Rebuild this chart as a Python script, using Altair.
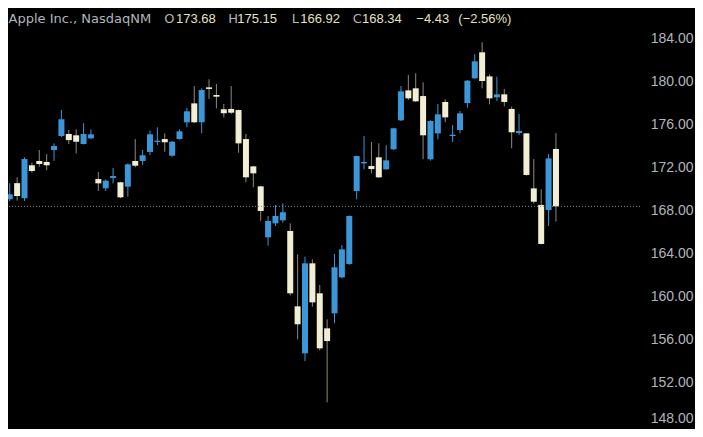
import altair as alt
import pandas as pd

# ---- data (daily candles, left to right) ----
OPEN = [168.2, 169.0, 170.5, 169.1, 172.16, 172.56, 172.47, 173.58, 174.88, 175.07,
        174.95, 174.14, 174.67, 170.88, 170.02, 170.98, 170.58, 170.17, 172.56, 172.56,
        173.4, 174.33, 174.6, 173.05, 174.6, 176.16, 177.92, 176.16, 179.41, 178.7,
        177.37, 177.4, 177.3, 174.6, 172.06, 170.2, 165.46, 166.76, 167.04, 166.05,
        159.04, 154.67, 163.04, 160.25, 156.99, 158.39, 161.74, 162.98, 169.77, 172.34,
        172.09, 172.9, 171.79, 173.65, 176.34, 179.13, 179.32, 178.6, 172.72, 175.13,
        178.05, 174.88, 175.44, 177.95, 180.25, 182.67, 180.43, 178.48, 178.76, 177.4,
        175.16, 175.13, 170.01, 168.47, 168.0, 173.68]
HIGH = [169.3, 170.5, 171.04, 172.9, 172.4, 173.58, 173.2, 174.2, 177.3, 175.44,
        175.5, 176.07, 175.5, 171.53, 170.85, 171.9, 170.62, 172.34, 174.6, 173.58,
        175.38, 175.69, 175.13, 174.42, 175.5, 177.49, 179.53, 179.32, 180.16, 179.72,
        177.86, 179.53, 177.35, 175.07, 172.1, 170.25, 167.44, 168.47, 168.62, 166.76,
        163.88, 163.66, 163.41, 161.02, 157.83, 163.91, 164.74, 167.5, 173.05, 174.88,
        174.33, 174.2, 174.02, 175.65, 179.53, 180.56, 180.72, 179.88, 176.35, 177.86,
        178.3, 175.9, 177.21, 180.08, 182.51, 183.6, 180.62, 180.4, 179.26, 177.61,
        176.93, 175.15, 172.74, 169.92, 173.21, 175.15]
LOW = [167.7, 168.8, 168.87, 168.84, 171.47, 172.03, 171.7, 172.56, 174.8, 174.14,
       173.27, 174.1, 174.58, 169.77, 169.77, 170.48, 169.1, 169.24, 171.97, 172.19,
       173.12, 174.02, 173.42, 172.96, 174.55, 175.69, 176.1, 175.13, 178.33, 177.46,
       176.62, 176.93, 173.33, 170.58, 170.11, 167.0, 164.68, 166.51, 166.82, 160.06,
       155.97, 153.95, 159.0, 154.95, 150.11, 157.46, 161.64, 162.9, 168.99, 171.79,
       171.41, 170.98, 171.75, 173.6, 176.28, 178.23, 178.05, 172.72, 172.6, 174.58,
       176.16, 174.33, 175.13, 177.52, 180.2, 179.32, 177.83, 178.14, 177.64, 173.74,
       174.98, 171.2, 168.62, 164.8, 166.51, 166.92]
CLOSE = [168.9, 169.46, 169.3, 172.74, 171.63, 172.28, 172.16, 173.95, 176.44, 174.5,
         174.35, 175.07, 175.04, 170.48, 170.73, 171.16, 169.18, 172.25, 172.12, 173.09,
         175.04, 174.45, 174.3, 174.35, 175.32, 177.18, 176.16, 179.16, 179.26, 178.54,
         177.0, 177.05, 174.2, 171.04, 171.41, 167.91, 166.98, 167.44, 167.79, 160.25,
         157.37, 163.04, 159.41, 155.13, 155.81, 162.67, 164.34, 167.44, 173.02, 172.47,
         171.81, 171.04, 172.62, 175.6, 179.04, 178.39, 178.11, 174.95, 176.28, 176.9,
         176.62, 175.0, 176.99, 180.03, 181.83, 180.0, 178.39, 178.76, 178.05, 175.23,
         175.35, 171.26, 168.77, 164.84, 172.8, 168.34]
LAST_CLOSE = 168.34
PRICE_TICKS = [148, 152, 156, 160, 164, 168, 172, 176, 180, 184]

TITLE_NAME = "Apple Inc., NasdaqNM"
TITLE_PARTS = ["O", "173.68", "H", "175.15", "L", "166.92", "C", "168.34", "−4.43", "(−2.56%)"]

# ---- styling ----
BLUE = "#3c97d9"
CREAM = "#f2eed3"
WICK_DOWN = "#8e8b7a"
TEXT_GRAY = "#b2b5be"
NUM_CREAM = "#e6e1c2"

df = pd.DataFrame({
    "i": list(range(1, len(OPEN) + 1)),
    "open": OPEN, "high": HIGH, "low": LOW, "close": CLOSE,
})
df["dir"] = ["up" if c >= o else "down" for o, c in zip(df["open"], df["close"])]

W, H = 632, 421
xs = alt.Scale(domain=[2.44, 86.71], nice=False, zero=False)
ys = alt.Scale(domain=[147.628, 186.791], nice=False, zero=False)

yaxis = alt.Axis(orient="right", values=PRICE_TICKS, format=".2f", labelAlign="right",
                 labelBaseline={"condition": {"test": "datum.value <= 148", "value": "bottom"},
                                "value": "middle"},
                 labelPadding=53, ticks=False, tickSize=0,
                 domain=False, grid=False, labelColor=TEXT_GRAY, labelFontSize=14,
                 labelFont="Liberation Sans", labelFlush=False, labelOverlap=False,
                 title=None)

base = alt.Chart(df)

wicks = base.mark_rule(strokeWidth=1, clip=True).encode(
    x=alt.X("i:Q", scale=xs, axis=None),
    y=alt.Y("low:Q", scale=ys, axis=yaxis),
    y2="high:Q",
    color=alt.Color("dir:N", scale=alt.Scale(domain=["up", "down"], range=[BLUE, WICK_DOWN]),
                    legend=None),
)

bodies = base.mark_bar(size=6, clip=True).encode(
    x=alt.X("i:Q", scale=xs, axis=None),
    y=alt.Y("open:Q", scale=ys, axis=yaxis),
    y2="close:Q",
    fill=alt.Fill("dir:N", scale=alt.Scale(domain=["up", "down"], range=[BLUE, CREAM]),
                  legend=None),
)

last_line = alt.Chart(pd.DataFrame({"v": [LAST_CLOSE]})).mark_rule(
    color="#8a8a8a", strokeDash=[1, 2], strokeWidth=1
).encode(y=alt.Y("v:Q", scale=ys, axis=yaxis))

layers = [wicks, bodies, last_line]

# title line (text pieces)
name_txt = alt.Chart(pd.DataFrame({"t": [TITLE_NAME]})).mark_text(
    align="left", baseline="alphabetic", font="DejaVu Sans", fontSize=13, color=TEXT_GRAY
).encode(text="t:N", x=alt.value(0.5), y=alt.value(15))
layers.append(name_txt)

part_x = [156.3, 168.0, 220.3, 229.3, 283.7, 292.3, 344.7, 354.0, 408.3, 450.3]
for txt, px in zip(TITLE_PARTS, part_x):
    is_letter = txt in ("O", "H", "L", "C")
    layers.append(
        alt.Chart(pd.DataFrame({"t": [txt]})).mark_text(
            align="left", baseline="alphabetic",
            font="DejaVu Sans" if is_letter else "Liberation Sans",
            fontSize=13, color=TEXT_GRAY if is_letter else NUM_CREAM
        ).encode(text="t:N", x=alt.value(px), y=alt.value(15))
    )

chart = alt.layer(*layers).properties(
    width=W, height=H,
    background="#000000",
    padding={"left": 0, "top": 0, "right": 55, "bottom": 0},
    autosize=alt.AutoSizeParams(type="none"),
).configure_view(stroke=None)

chart.save("out.html", embed_options={"renderer": "svg", "actions": False})
